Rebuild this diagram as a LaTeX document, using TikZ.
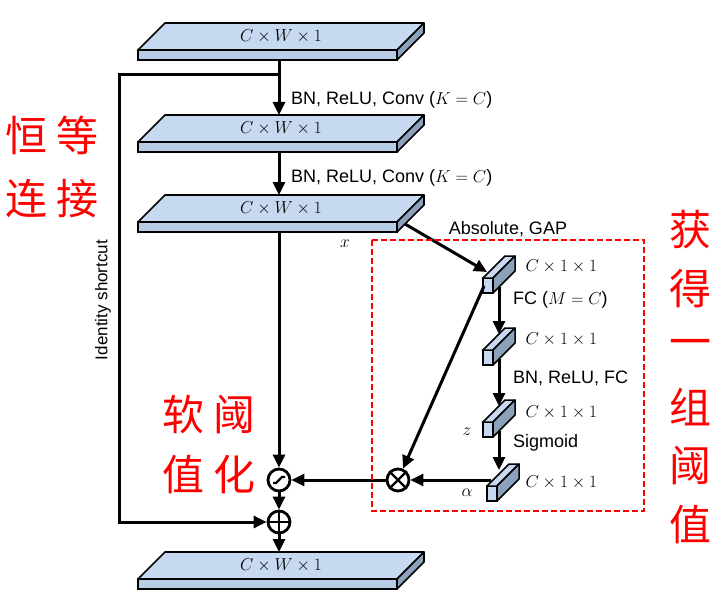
\documentclass[tikz,border=0pt]{standalone}
\usepackage{fontspec}
\setmainfont{Liberation Sans}
\newfontfamily\cjk{Noto Sans CJK SC}
\usetikzlibrary{arrows.meta}

\definecolor{slabtop}{RGB}{198,217,240}
\definecolor{slabfront}{RGB}{184,204,230}
\definecolor{slabside}{RGB}{140,162,188}

% wide feature map: name, x, y (upper left of front face), text
\newcommand{\flatslab}[4]{%
  \filldraw[fill=slabfront,line width=1.6pt] (#2,#3) rectangle ++(259,10);
  \filldraw[fill=slabtop,line width=1.6pt,line join=round] (#2,#3) -- ++(27,-27) -- ++(259,0) -- ++(-27,27) -- cycle;
  \filldraw[fill=slabside,line width=1.6pt,line join=round] (#2+259,#3) -- ++(27,-27) -- ++(0,10) -- ++(-27,27) -- cycle;
  \node[dim] (#1) at (#2+143,#3-13.5) {$#4$};
  \coordinate (#1-in) at (#2+141,#3-27);
  \coordinate (#1-out) at (#2+141,#3+10);
  \coordinate (#1-side) at (#2+267,#3+2);
}
% channel vector: name, x, y (upper left of front face)
\newcommand{\tinybox}[3]{%
  \filldraw[fill=slabtop,line width=1.5pt] (#2,#3) rectangle ++(10,15);
  \filldraw[fill=slabtop,line width=1.5pt,line join=round] (#2,#3) -- ++(22,-22) -- ++(10,0) -- ++(-22,22) -- cycle;
  \filldraw[fill=slabside,line width=1.5pt,line join=round] (#2+10,#3) -- ++(22,-22) -- ++(0,15) -- ++(-22,22) -- cycle;
  \coordinate (#1-in) at (#2+16,#3-16);
  \coordinate (#1-out) at (#2+16,#3+9);
  \coordinate (#1-nw) at (#2+4,#3-6);
  \coordinate (#1-left) at (#2+1,#3+8);
}

\begin{document}
\begin{tikzpicture}[x=1pt,y=-1pt,
    dim/.style={font=\fontsize{18}{21}\selectfont},
    lbl/.style={font=\fontsize{18}{21}\selectfont,anchor=west,inner sep=0pt},
    cn/.style={font=\cjk\fontsize{42}{46}\selectfont,text=red,inner sep=0pt},
    op/.style={circle,draw,line width=2.8pt,minimum size=22pt,inner sep=0pt},
    conn/.style={line width=3pt},
    arr/.style={conn,-{Triangle[length=13pt,width=12pt]}}]
  \useasboundingbox (0,0) rectangle (716,610);

  \flatslab{in}{138}{50}{C\times W\times 1}
  \flatslab{h1}{138}{142}{C\times W\times 1}
  \flatslab{h2}{138}{222}{C\times W\times 1}
  \flatslab{out}{138}{579}{C\times W\times 1}

  \tinybox{v1}{483}{278}
  \tinybox{v2}{483}{350}
  \tinybox{v3}{483}{422}
  \tinybox{v4}{487}{486}

  \node[op] (soft) at (279,480) {};
  \node[op] (mul) at (398,480) {};
  \node[op] (add) at (279,522) {};
  \draw[line width=2.2pt,shift={(soft.center)}] (-6,3) -- (-3,3) -- (3,-3) -- (6,-3);
  \draw[line width=2.2pt] (mul.north west) -- (mul.south east) (mul.north east) -- (mul.south west);
  \draw[line width=2.2pt] (add.north) -- (add.south) (add.west) -- (add.east);

  % main path
  \coordinate (split) at (279,75);
  \coordinate (sc) at (119,75);
  \draw[arr] (in-out) -- (h1-in);
  \draw[arr] (h1-out) -- (h2-in);
  \draw[arr] (h2-out) -- (soft);
  \draw[arr] (soft) -- (add);
  \draw[arr] (add) -- (out-in);
  \draw[arr] (split) -- (sc) |- (add);

  % threshold branch
  \draw[arr] (h2-side) -- (v1-nw);
  \draw[arr] (v1-out) -- (v2-in);
  \draw[arr] (v2-out) -- (v3-in);
  \draw[arr] (v3-out) -- (v3-out |- v4-in);
  \draw[arr] (v1-left) -- (mul);
  \draw[arr] (v4-nw) -- (mul);
  \draw[arr] (mul) -- (soft);

  \draw[red,line width=1.5pt,dash pattern=on 6pt off 3pt] (372,240) rectangle (644,511);

  % labels
  \node[lbl] (l1) at (291,100) {BN, ReLU, Conv ($K=C$)};
  \node[lbl] (l2) at (291,178) {BN, ReLU, Conv ($K=C$)};
  \node[dim] (l3) at (508,229) {Absolute, GAP};
  \node[lbl] (l4) at (513,300) {FC ($M=C$)};
  \node[lbl] (l5) at (513,378) {BN, ReLU, FC};
  \node[lbl] (l6) at (513,443) {Sigmoid};
  \node[dim] (lx) at (345,244) {$x$};
  \node[dim] (lz) at (467,432) {$z$};
  \node[dim] (la) at (467,493) {$\alpha$};
  \node[dim,anchor=west] (d1) at (522,266) {$C\times 1\times 1$};
  \node[dim,anchor=west] (d2) at (522,339) {$C\times 1\times 1$};
  \node[dim,anchor=west] (d3) at (522,412) {$C\times 1\times 1$};
  \node[dim,anchor=west] (d4) at (522,482) {$C\times 1\times 1$};
  \node[font=\fontsize{17}{20}\selectfont,rotate=90] (lid) at (103,300) {Identity shortcut};

  % chinese notes
  \node[cn] (c1) at (52,135) {恒\hspace{9pt}等};
  \node[cn] (c2) at (52,199) {连\hspace{9pt}接};
  \node[cn] (c3) at (209,415) {软\hspace{9pt}阈};
  \node[cn] (c4) at (209,475) {值\hspace{9pt}化};
  \foreach \c [count=\i] in {获,得,一,组,阈,值}
    \node[cn] (r\i) at (690,171+59*\i) {\c};
\end{tikzpicture}
\end{document}
